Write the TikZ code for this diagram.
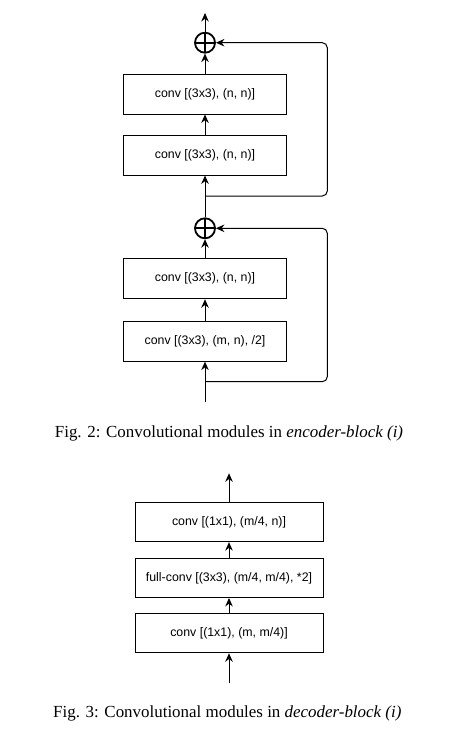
\documentclass[tikz,border=0pt]{standalone}
\usepackage{fontspec}
\setmainfont{Liberation Serif}
\newfontfamily\boxfont{Liberation Sans}
\usetikzlibrary{arrows.meta}
\begin{document}
\begin{tikzpicture}[x=1bp, y=-1bp, >={Stealth[length=8.5bp,width=7.5bp,inset=2.8bp]}, line width=1bp]
					\tikzstyle{convbox}=[draw, line width=0.9bp, rectangle, inner sep=0pt, font=\boxfont\fontsize{12.4}{14}\selectfont]
					\tikzstyle{encbox}=[convbox, minimum width=163bp, minimum height=40bp]
					\tikzstyle{decbox}=[convbox, minimum width=188bp, minimum height=39bp]
					\tikzstyle{plus}=[circle, draw, line width=1.8bp, minimum size=20bp, inner sep=0pt,
						path picture={\draw[line width=1.8bp] (path picture bounding box.north) -- (path picture bounding box.south)
							(path picture bounding box.west) -- (path picture bounding box.east);}]
					\tikzstyle{caption}=[inner sep=0pt, font=\fontsize{17}{20}\selectfont]
					\useasboundingbox (0,0) rectangle (452,735);
					% encoder-block
					\draw 
					coordinate(out)at(205,13)
					node[plus](p1)at(205,42.7){}
					node[encbox](c1)at(205,94){conv [(3x3), (n, n)]}
					node[encbox](c2)at(205,155){conv [(3x3), (n, n)]}
					coordinate(s1)at(205,196)
					node[plus](p2)at(205,228.3){}
					node[encbox](c3)at(205,278.8){conv [(3x3), (n, n)]}
					node[encbox](c4)at(205,341.2){conv [(3x3), (m, n), /2]}
					coordinate(s2)at(205,381.7)
					coordinate(in)at(205,401.7);
					
					\draw[->](p1)--(out);
					\draw[->](c1)--(p1);
					\draw[->](c2)--(c1);
					\draw[->](p2)--(c2);
					\draw[->](c3)--(p2);
					\draw[->](c4)--(c3);
					\draw[->](in)--(c4);
					\draw[->, rounded corners=5bp](s1)--++(122.3,0)|-(p1);
					\draw[->, rounded corners=5bp](s2)--++(122.3,0)|-(p2);
					
					\node[caption](cap2)at(229,433){Fig. 2: Convolutional modules in \textit{encoder-block (i)}};
					
					% decoder-block
					\draw 
					coordinate(dout)at(229,473.3)
					node[decbox](d1)at(229,522.2){conv [(1x1), (m/4, n)]}
					node[decbox](d2)at(229,578){full-conv [(3x3), (m/4, m/4), *2]}
					node[decbox](d3)at(229,633.3){conv [(1x1), (m, m/4)]}
					coordinate(din)at(229,683.3);
					
					\draw[->](din)--(d3);
					\draw[->](d3)--(d2);
					\draw[->](d2)--(d1);
					\draw[->](d1)--(dout);
					
					\node[caption](cap3)at(227.3,713){Fig. 3: Convolutional modules in \textit{decoder-block (i)}};
				\end{tikzpicture}
\end{document}
